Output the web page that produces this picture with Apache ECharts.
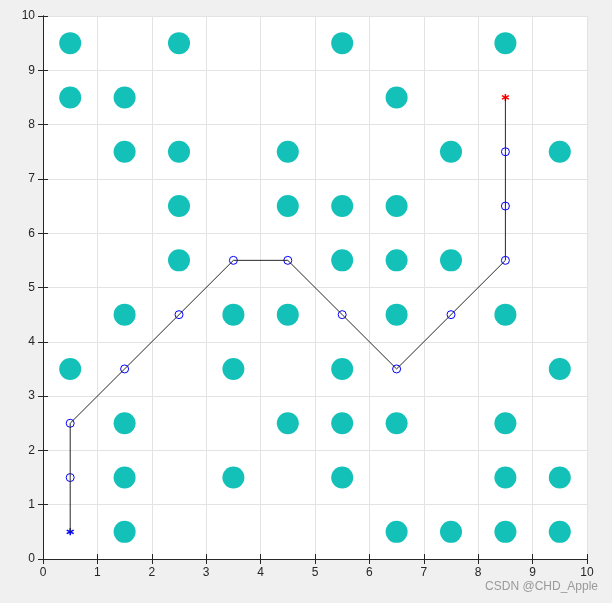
<!DOCTYPE html>
<html><head><meta charset="utf-8">
<script src="https://cdn.jsdelivr.net/npm/echarts@6/dist/echarts.min.js"></script>
<style>html,body{margin:0;background:#f0f0f0}#c{width:612px;height:603px}</style>
</head><body><div id="c"></div>
<script>
const obstacles = [
[0.5,9.5],[2.5,9.5],[5.5,9.5],[8.5,9.5],
[0.5,8.5],[1.5,8.5],[6.5,8.5],
[1.5,7.5],[2.5,7.5],[4.5,7.5],[7.5,7.5],[9.5,7.5],
[2.5,6.5],[4.5,6.5],[5.5,6.5],[6.5,6.5],
[2.5,5.5],[5.5,5.5],[6.5,5.5],[7.5,5.5],
[1.5,4.5],[3.5,4.5],[4.5,4.5],[6.5,4.5],[8.5,4.5],
[0.5,3.5],[3.5,3.5],[5.5,3.5],[9.5,3.5],
[1.5,2.5],[4.5,2.5],[5.5,2.5],[6.5,2.5],[8.5,2.5],
[1.5,1.5],[3.5,1.5],[5.5,1.5],[8.5,1.5],[9.5,1.5],
[1.5,0.5],[6.5,0.5],[7.5,0.5],[8.5,0.5],[9.5,0.5]];
const path = [[0.5,0.5],[0.5,1.5],[0.5,2.5],[1.5,3.5],[2.5,4.5],[3.5,5.5],[4.5,5.5],[5.5,4.5],[6.5,3.5],[7.5,4.5],[8.5,5.5],[8.5,6.5],[8.5,7.5],[8.5,8.5]];
const startPt = [path[0]], endPt = [path[path.length-1]];
const mids = path.slice(1,-1);
const star = 'path://M0,-1L0,1M-0.87,-0.5L0.87,0.5M-0.87,0.5L0.87,-0.5';
const ax = (pos, show) => ({type:'value',min:0,max:10,interval:1,position:pos,
  axisLine:{show:true,lineStyle:{color:'#262626'}},axisTick:{show:true,inside:true,length:5,lineStyle:{color:'#262626'}},
  axisLabel:{show:show,color:'#262626',fontSize:12,fontFamily:'Arial'},
  splitLine:{show:show,lineStyle:{color:'#e3e3e3'}}});
const c = echarts.init(document.getElementById('c'));
c.setOption({
  backgroundColor:'#f0f0f0', animation:false,
  grid:{left:43,right:25,top:16,bottom:44,show:true,backgroundColor:'#fff',borderWidth:0},
  xAxis:[ax('bottom',true),ax('top',false)],
  yAxis:[ax('left',true),ax('right',false)],
  graphic:[{type:'text',right:14,bottom:10,style:{text:'CSDN @CHD_Apple',fill:'#9a9a9a',fontSize:12,fontFamily:'Arial'}}],
  series:[
    {type:'scatter',data:obstacles,symbolSize:22,itemStyle:{color:'#13c1b8',opacity:1}},
    {type:'line',data:path,symbol:'none',lineStyle:{color:'#262626',width:1}},
    {type:'scatter',data:mids,symbol:'circle',symbolSize:8,itemStyle:{color:'#fff',borderColor:'#0000ff',borderWidth:1,opacity:1}},
    {type:'scatter',data:startPt,symbol:star,symbolSize:7,itemStyle:{color:'none',borderColor:'#0000ff',borderWidth:1.5,opacity:1}},
    {type:'scatter',data:endPt,symbol:star,symbolSize:7,itemStyle:{color:'none',borderColor:'#ff0000',borderWidth:1.5,opacity:1}}
  ]
});
</script></body></html>
